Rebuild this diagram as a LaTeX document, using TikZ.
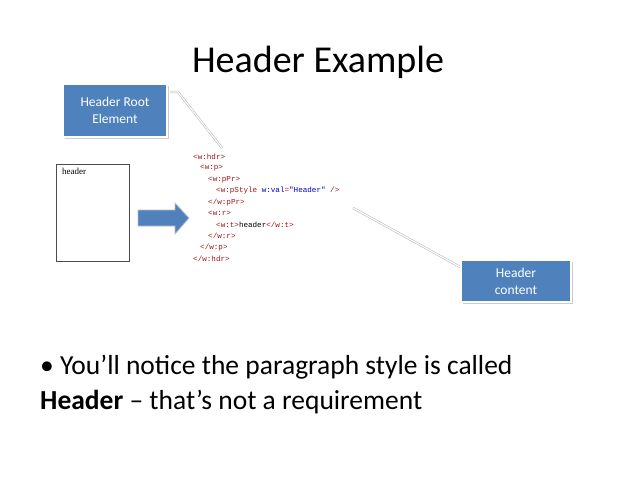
\documentclass[tikz,border=0pt]{standalone}
\usepackage{fontspec}
\setmainfont{Carlito}
\newfontfamily\codefont{Liberation Mono}
\newfontfamily\pagefont{Liberation Serif}
\usetikzlibrary{shadows}
\definecolor{accent}{HTML}{4F81BD}
\definecolor{tagred}{HTML}{A31515}
\definecolor{valblue}{HTML}{0000C0}
\tikzset{
  callout/.style={fill=accent,draw=white,line width=1.5pt,text=white,font=\fontsize{13.5}{17}\selectfont,align=center,drop shadow={opacity=0.4,shadow xshift=1.5pt,shadow yshift=-1.5pt}},
  leadershadow/.style={draw=black!30,line width=2.2pt},
  leader/.style={draw=white,line width=1.2pt},
  codeline/.style={anchor=west,inner sep=0pt,font=\codefont\fontsize{7.6}{9}\selectfont,text=tagred},
}
\newcommand{\bl}[1]{\textcolor{valblue}{#1}}
\newcommand{\bk}[1]{\textcolor{black}{#1}}
\begin{document}
\begin{tikzpicture}[x=1pt,y=-1pt]
\useasboundingbox[fill=white] (0,0) rectangle (638,479);
\node (title) at (318,62) {\fontsize{38}{44}\selectfont Header Example};
% page
\node (page) [draw=black!70,fill=white,minimum width=73pt,minimum height=97pt,inner sep=0pt] at (92.5,212.5) {};
\node (pagetext) [anchor=north west,inner sep=0pt,font=\pagefont\fontsize{9}{10}\selectfont] at (62,168) {header};
% arrow
\coordinate (arrow) at (163,218);
\fill[accent,draw=black!25,line width=0.8pt] (138,210) -- (175,210) -- (175,203) -- (189,218) -- (175,234) -- (175,226) -- (138,226) -- cycle;
% code
\foreach \i/\x/\t in {0/193/{<w:hdr>},1/200/{<w:p>},2/208/{<w:pPr>},3/216/{<w:pStyle \bl{w:val}=\bl{"Header"} />},4/208/{</w:pPr>},5/208/{<w:r>},6/216/{<w:t>\bk{header}</w:t>},7/208/{</w:r>},8/200/{</w:p>},9/193/{</w:hdr>}}
  \node (c\i) [codeline] at (\x,157+11.3*\i) {\t};
% callouts
\coordinate (k1) at (170,92);
\coordinate (k2) at (178,92);
\coordinate (t1) at (222,148);
\coordinate (k3) at (462,268);
\coordinate (t2) at (353,208);
\draw[leadershadow] (k1) -- (k2) -- (t1);
\draw[leadershadow] (k3) -- (t2);
\draw[leader] (k1) -- (k2) -- (t1);
\draw[leader] (k3) -- (t2);
\node (root) [callout,minimum width=104pt,minimum height=53pt] at (115,110.5) {Header Root\\Element};
\node (content) [callout,minimum width=110pt,minimum height=42pt] at (516,281) {Header\\content};
% bullets
\node (b1) [anchor=west,inner sep=0pt,font=\fontsize{27.5}{32}\selectfont] at (40,367) {• You’ll notice the paragraph style is called};
\node (b2) [anchor=west,inner sep=0pt,font=\fontsize{27.5}{32}\selectfont] at (40,402) {\textbf{Header} – that’s not a requirement};
\end{tikzpicture}
\end{document}
